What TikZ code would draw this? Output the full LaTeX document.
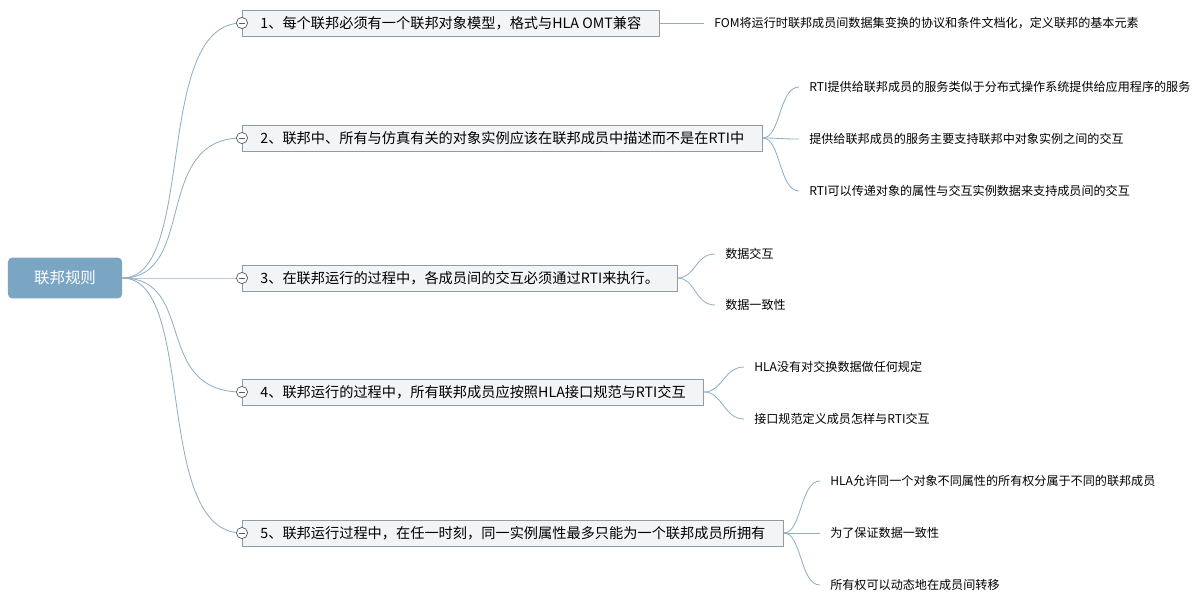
\documentclass[tikz,border=0pt]{standalone}
\usepackage{fontspec}
\usetikzlibrary{calc}
\setmainfont{Noto Sans CJK SC}
\begin{document}
\begin{tikzpicture}[x=0.025cm,y=-0.025cm,
 line/.style={draw=lnc,line width=0.6pt},
 branch/.style={draw=bdc,fill=bfc,line width=0.6pt,minimum height=0.65cm,anchor=west,inner xsep=0.45cm,font=\fontsize{10.1}{12}\selectfont},
 leaf/.style={anchor=west,inner sep=0pt,font=\fontsize{8.6}{10}\selectfont},
 tog/.style={circle,draw=gray!70!black,fill=white,minimum size=0.28cm,inner sep=0pt,line width=0.5pt}]
\definecolor{lnc}{HTML}{8FAFC6}
\definecolor{bdc}{HTML}{8E9CA6}
\definecolor{bfc}{HTML}{F2F4F6}
\definecolor{rootc}{HTML}{7AA5C3}
\useasboundingbox (0,0) rectangle (1195,600);
\node[fill=rootc,rounded corners=3pt,minimum width=2.85cm,minimum height=1.02cm,text=white,font=\fontsize{11}{13}\selectfont] (root) at (65,278) {联邦规则};
\node[branch] (b1) at (242,23) {1、每个联邦必须有一个联邦对象模型，格式与HLA OMT兼容};
\node[branch] (b2) at (242,138) {2、联邦中、所有与仿真有关的对象实例应该在联邦成员中描述而不是在RTI中};
\node[branch] (b3) at (242,278) {3、在联邦运行的过程中，各成员间的交互必须通过RTI来执行。};
\node[branch] (b4) at (242,392) {4、联邦运行的过程中，所有联邦成员应按照HLA接口规范与RTI交互};
\node[branch] (b5) at (242,533) {5、联邦运行过程中，在任一时刻，同一实例属性最多只能为一个联邦成员所拥有};
\foreach \b in {b1,b2,b3,b4,b5}{
  \draw[line] (root.east) .. controls ($(root.east)+(75,0)$) and ($(\b.west)+(-90,0)$) .. (\b.west);
  \node[tog] (t\b) at (\b.west) {};
  \draw[gray!70!black,line width=0.5pt] ($(t\b.center)+(-3,0)$) -- ($(t\b.center)+(3,0)$);
}
\node[leaf] (l1) at (714,23) {FOM将运行时联邦成员间数据集变换的协议和条件文档化，定义联邦的基本元素};
\node[leaf] (l21) at (809,87) {RTI提供给联邦成员的服务类似于分布式操作系统提供给应用程序的服务};
\node[leaf] (l22) at (809,139) {提供给联邦成员的服务主要支持联邦中对象实例之间的交互};
\node[leaf] (l23) at (809,191) {RTI可以传递对象的属性与交互实例数据来支持成员间的交互};
\node[leaf] (l31) at (725,254) {数据交互};
\node[leaf] (l32) at (725,305) {数据一致性};
\node[leaf] (l41) at (754,367) {HLA没有对交换数据做任何规定};
\node[leaf] (l42) at (754,419) {接口规范定义成员怎样与RTI交互};
\node[leaf] (l51) at (830,481) {HLA允许同一个对象不同属性的所有权分属于不同的联邦成员};
\node[leaf] (l52) at (830,533) {为了保证数据一致性};
\node[leaf] (l53) at (830,585) {所有权可以动态地在成员间转移};
\draw[line] (b1.east) -- ($(l1.west)+(-10,0)$);
\foreach \b/\l in {b2/l21,b2/l22,b2/l23,b3/l31,b3/l32,b4/l41,b4/l42,b5/l51,b5/l52,b5/l53}{
  \draw[line] (\b.east) .. controls ($(\b.east)+(18,0)$) and ($(\l.west)+(-30,0)$) .. ($(\l.west)+(-10,0)$);
}
\end{tikzpicture}
\end{document}
